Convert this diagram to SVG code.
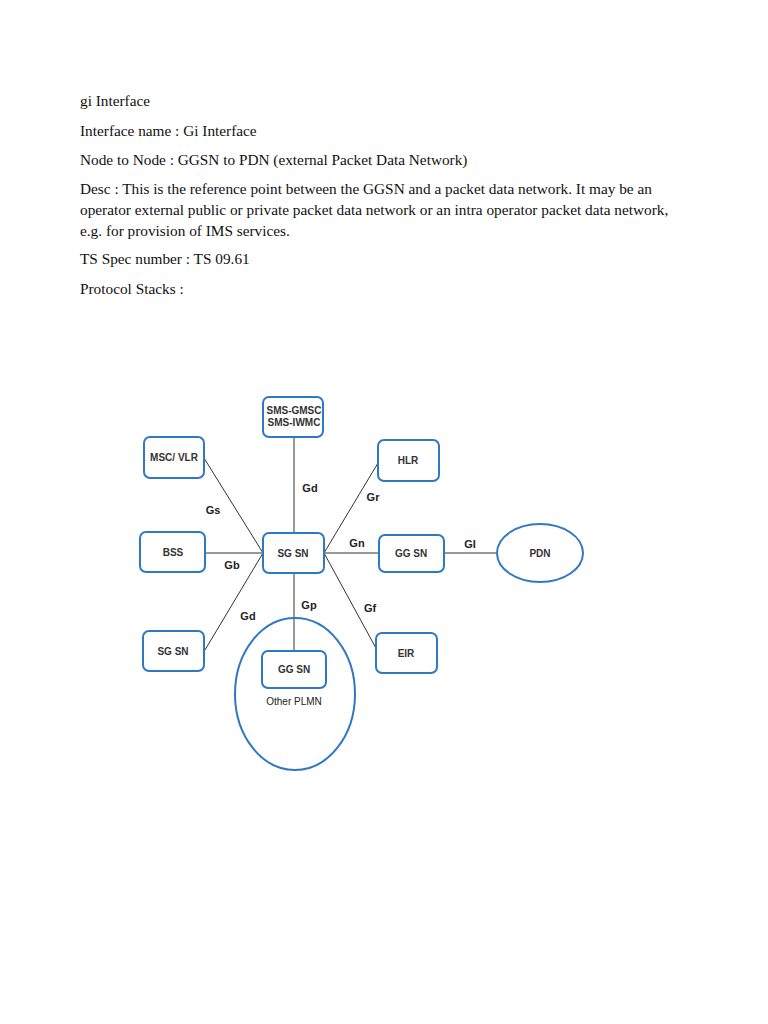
<svg xmlns="http://www.w3.org/2000/svg" width="768" height="1024" viewBox="0 0 768 1024">
<style>
.t{font-family:"Liberation Serif","Times New Roman",serif;font-size:15.3px;fill:#111}
.box{fill:#fff;stroke:#2f78c4;stroke-width:2}
.ell{fill:none;stroke:#2f78c4;stroke-width:2}
.n{font-family:"Liberation Sans",Arial,sans-serif;font-size:10px;font-weight:bold;fill:#333;text-anchor:middle}
.l{font-family:"Liberation Sans",Arial,sans-serif;font-size:11px;font-weight:bold;fill:#222;text-anchor:middle}
.c{stroke:#333;stroke-width:1;fill:none}
</style>
<rect width="768" height="1024" fill="#fff"/>
<g id="text">
<text class="t" x="80" y="106">gi Interface</text>
<text class="t" x="80" y="136">Interface name : Gi Interface</text>
<text class="t" x="80" y="165">Node to Node : GGSN to PDN (external Packet Data Network)</text>
<text class="t" x="80" y="194">Desc : This is the reference point between the GGSN and a packet data network. It may be an</text>
<text class="t" x="80" y="215">operator external public or private packet data network or an intra operator packet data network,</text>
<text class="t" x="80" y="236">e.g. for provision of IMS services.</text>
<text class="t" x="80" y="264">TS Spec number : TS 09.61</text>
<text class="t" x="80" y="294">Protocol Stacks :</text>
</g>
<g id="connectors">
<line class="c" x1="294" y1="437" x2="294" y2="533"/>
<line class="c" x1="294" y1="573" x2="294" y2="651"/>
<line class="c" x1="204" y1="458" x2="263" y2="553"/>
<line class="c" x1="205" y1="553" x2="263" y2="553"/>
<line class="c" x1="263" y1="553" x2="205" y2="650"/>
<line class="c" x1="324" y1="553" x2="378" y2="463"/>
<line class="c" x1="324" y1="553" x2="379" y2="553"/>
<line class="c" x1="324" y1="553" x2="377" y2="650"/>
<line class="c" x1="444" y1="553" x2="497" y2="553"/>
<text class="l" x="213" y="514">Gs</text>
<text class="l" x="232" y="569">Gb</text>
<text class="l" x="310" y="492">Gd</text>
<text class="l" x="373" y="501">Gr</text>
<text class="l" x="357" y="547">Gn</text>
<text class="l" x="470" y="548">GI</text>
<text class="l" x="309" y="609">Gp</text>
<text class="l" x="370" y="612">Gf</text>
<text class="l" x="248" y="620">Gd</text>
</g>
<g id="sms">
<rect class="box" x="263" y="397" width="60" height="40" rx="6"/>
<text class="n" x="294" y="414">SMS-GMSC</text>
<text class="n" x="294" y="426">SMS-IWMC</text>
</g>
<g id="mscvlr">
<rect class="box" x="144" y="437" width="60" height="41" rx="6"/>
<text class="n" x="174" y="461">MSC/ VLR</text>
</g>
<g id="hlr">
<rect class="box" x="378" y="440" width="61" height="41" rx="6"/>
<text class="n" x="408" y="464">HLR</text>
</g>
<g id="bss">
<rect class="box" x="140" y="532" width="65" height="40" rx="6"/>
<text class="n" x="173" y="556">BSS</text>
</g>
<g id="sgsn">
<rect class="box" x="263" y="533" width="61" height="40" rx="6"/>
<text class="n" x="293" y="557">SG SN</text>
</g>
<g id="ggsn">
<rect class="box" x="379" y="535" width="65" height="37" rx="6"/>
<text class="n" x="411" y="557">GG SN</text>
</g>
<g id="pdn">
<ellipse class="ell" cx="540" cy="553" rx="43" ry="29"/>
<text class="n" x="540" y="557">PDN</text>
</g>
<g id="sgsn2">
<rect class="box" x="143" y="631" width="61" height="40" rx="6"/>
<text class="n" x="173" y="655">SG SN</text>
</g>
<g id="otherplmn">
<ellipse class="ell" cx="295" cy="694" rx="60" ry="76"/>
<text class="n" x="294" y="705" style="font-weight:normal;fill:#222">Other PLMN</text>
</g>
<g id="ggsn2">
<rect class="box" x="262" y="651" width="64" height="37" rx="6"/>
<text class="n" x="294" y="673">GG SN</text>
</g>
<g id="eir">
<rect class="box" x="376" y="633" width="61" height="40" rx="6"/>
<text class="n" x="406" y="657">EIR</text>
</g>
</svg>
